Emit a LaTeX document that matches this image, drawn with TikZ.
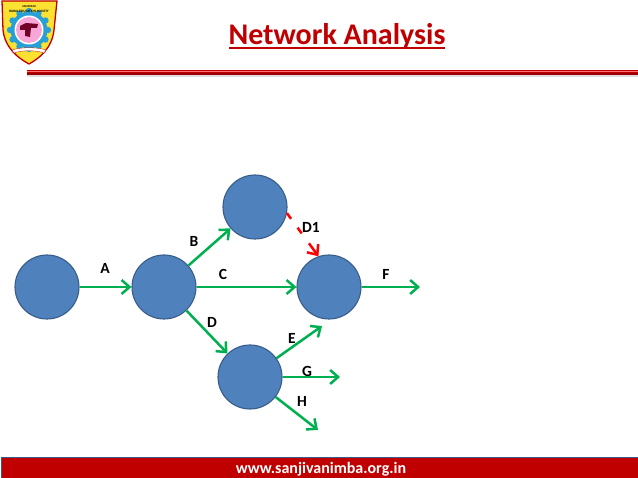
\documentclass[tikz,border=0pt]{standalone}
\usepackage{fontspec}
\setmainfont{Carlito}
\usetikzlibrary{arrows.meta,calc}
\definecolor{nodeblue}{RGB}{79,129,189}
\definecolor{nodeedge}{RGB}{56,93,138}
\definecolor{flowgreen}{RGB}{0,176,80}
\definecolor{barred}{RGB}{192,0,0}
\definecolor{logoyellow}{RGB}{250,225,50}
\definecolor{gearblue}{RGB}{40,160,215}
\tikzset{
  x=1pt,y=-1pt,
  event/.style={circle,draw=nodeedge,line width=1.1pt,fill=nodeblue,minimum size=64pt,inner sep=0pt},
  flow/.style={draw=flowgreen,line width=2.5pt,-{Straight Barb[length=8pt,width=14pt,line width=2.5pt]}},
  dummy/.style={draw=red,line width=2.5pt,dash pattern=on 7pt off 11pt},
  dummytip/.style={draw=red,line width=2.5pt,solid,-{Straight Barb[length=8pt,width=14pt,line width=2.5pt]}},
  lab/.style={font=\fontsize{15.5}{17}\selectfont\bfseries,text=black,inner sep=0pt},
}
\begin{document}
\begin{tikzpicture}
\useasboundingbox (0,0) rectangle (638,478);
\fill[white] (0,0) rectangle (638,478);
% logo
\draw[fill=logoyellow,draw=barred,line width=1.3pt] (2,1) -- (57,1) -- (54,30) .. controls (52,48) and (40,58) .. (29,64) .. controls (18,58) and (5,48) .. (3,30) -- cycle;
\foreach \a in {0,30,...,330}{\fill[gearblue] (29,30) ++(\a:19) circle (3.2pt);}
\fill[gearblue] (29,30) circle (18.5pt);
\fill[white] (29,30) circle (14.5pt);
\fill[magenta!35!white] (29,30) circle (13pt);
\fill[purple!60!black] (20,26) -- (26,23) -- (38,24) -- (37,28) -- (31,28) -- (30,37) -- (25,36) -- (25,30) -- (20,30) -- cycle;
\fill[white,draw=barred,line width=.3pt] (12,50) .. controls (20,47) and (38,47) .. (46,50) -- (44,53) .. controls (36,50) and (22,50) .. (14,53) -- cycle;
\node[font=\fontsize{3}{3}\selectfont\bfseries,inner sep=0pt] (logotop) at (29,7) {SANJIVANI};
\node[font=\fontsize{3.4}{4}\selectfont\bfseries,inner sep=0pt] (logotext) at (29,11) {RURAL EDUCATION SOCIETY};
% title
\node[font=\fontsize{30}{32}\selectfont\bfseries,text=barred,inner sep=0pt,anchor=base] (title) at (337,45) {Network Analysis};
\draw[barred,line width=1.6pt] (229,48) -- (445,48);
% rule
\fill[gray!25] (27,75) rectangle (638,77);
\fill[red!75!black] (27,70.5) rectangle (638,75);
\fill[red!55!white] (27,71.5) rectangle (638,72.5);
\fill[barred!80!black] (27,73.5) rectangle (638,75);
% footer
\fill[barred,draw=nodeedge,line width=.8pt] (1.5,457) rectangle (640,480);
\node[font=\fontsize{16}{18}\selectfont\bfseries,text=white,inner sep=0pt] (site) at (321,469) {www.sanjivanimba.org.in};
% nodes
\node[event] (n1) at (47,287) {};
\node[event] (n2) at (164,287) {};
\node[event] (n3) at (255,207) {};
\node[event] (n4) at (329,287) {};
\node[event] (n5) at (250,377) {};
\coordinate (fend) at (420,287);
\coordinate (eend) at (322,326);
\coordinate (gend) at (340,377);
\coordinate (hend) at (318,430);
% connectors
\draw[flow] (n1) -- (n2);
\draw[flow] (n2) -- (n3);
\draw[flow] (n2) -- (n4);
\draw[flow] (n2) -- (n5);
\draw[flow] (n4) -- (fend);
\draw[flow] (n5) -- (eend);
\draw[flow] (n5) -- (gend);
\draw[flow] (n5) -- (hend);
\draw[dummy,shorten >=22pt] (n3.-11) -- (n4.109);
\draw[dummytip] ($(n3.-11)!0.7!(n4.109)$) -- (n4.109);
% labels
\node[lab] (la) at (105,268) {A};
\node[lab] (lb) at (194,241) {B};
\node[lab] (lc) at (223,274) {C};
\node[lab] (ld) at (212,322) {D};
\node[lab] (ld1) at (311,227) {D1};
\node[lab] (le) at (292,338) {E};
\node[lab] (lf) at (386,274) {F};
\node[lab] (lg) at (307,371) {G};
\node[lab] (lh) at (302,401) {H};
\end{tikzpicture}
\end{document}
